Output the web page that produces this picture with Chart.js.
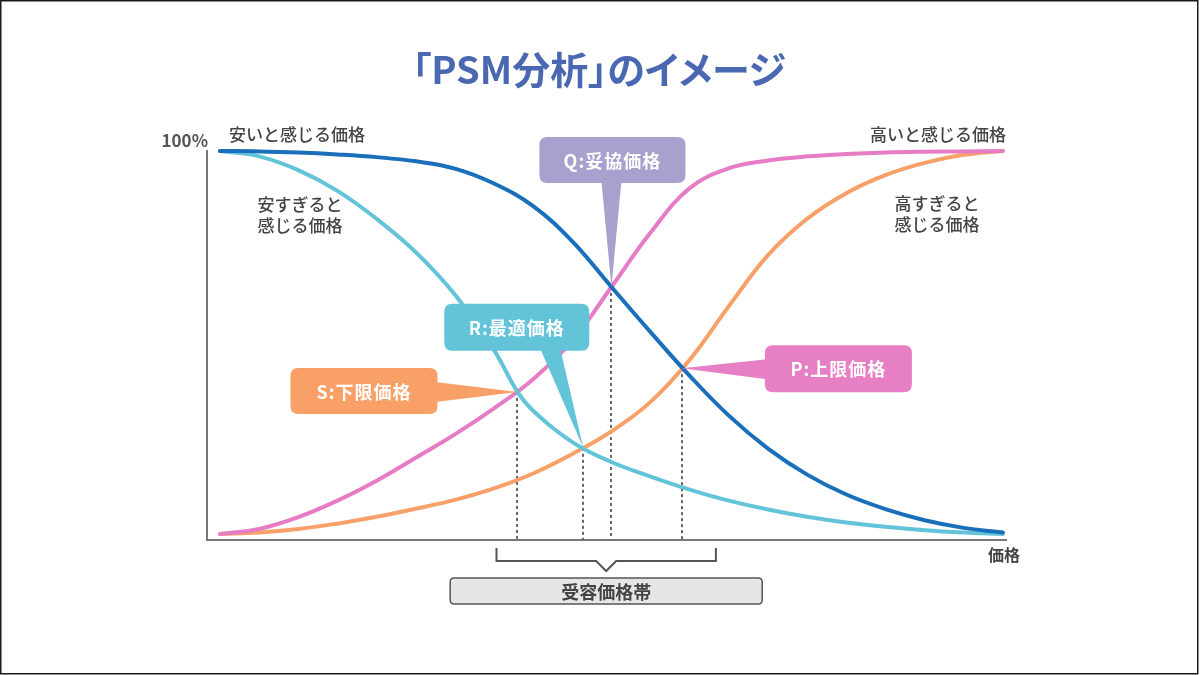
<!DOCTYPE html>
<html lang="ja">
<head>
<meta charset="utf-8">
<title>PSM分析のイメージ</title>
<script src="https://cdn.jsdelivr.net/npm/chart.js@4.4.1/dist/chart.umd.min.js"></script>
<style>
  html, body { margin: 0; padding: 0; background: #fff; }
  #wrap { width: 1200px; height: 675px; position: relative; }
  #title {
    position: absolute; left: 0; top: 48px; width: 1198px; margin: 0;
    text-align: center; font-family: "Noto Sans CJK JP", "Noto Sans", sans-serif;
    font-weight: bold; font-size: 38px; line-height: 40px; color: #4a67b1;
    font-feature-settings: "palt" 1; letter-spacing: 0px;
  }
</style>
</head>
<body>
<div id="wrap">
  <canvas id="c" width="1200" height="675"></canvas>
  <h1 id="title"></h1>
</div>
<script>
// ---- data (price index 0-100, share of respondents %) ----
const stepPrice     = [0, 5, 10, 15, 20, 25, 30, 35, 40, 45, 50, 55, 60, 65, 70, 75, 80, 85, 90, 95, 100];

const cheapPrice    = stepPrice;
const cheapPct      = [100, 99.9, 99.6, 99.1, 98.4, 97.3, 95.4, 91.5, 85.6, 76.4, 64.5, 52.7, 41.3, 30.9, 22.3, 15.5, 10.3, 6.5, 3.6, 1.6, 0.4];

const tooCheapPrice = [0, 5, 10, 15, 20, 25, 30, 35, 38, 40, 45, 50, 55, 60, 65, 70, 75, 80, 85, 90, 95, 100];
const tooCheapPct   = [100, 98.6, 95.0, 89.6, 82.3, 73.6, 62.5, 48.0, 37.1, 32.2, 24.0, 18.8, 15.0, 11.6, 8.7, 6.4, 4.5, 3.0, 1.9, 1.0, 0.4, 0];

const highPrice     = stepPrice;
const highPct       = [0, 1.3, 4.4, 8.7, 13.9, 19.9, 26.0, 32.8, 40.4, 50.5, 64.5, 78.7, 90.3, 95.5, 97.5, 98.6, 99.2, 99.6, 99.8, 99.9, 100];

const tooHighPrice  = stepPrice;
const tooHighPct    = [0, 0.4, 1.3, 2.7, 4.5, 6.6, 8.9, 11.9, 15.8, 20.9, 26.8, 34.5, 45.5, 59.5, 72.8, 82.3, 89.0, 93.7, 96.9, 99.0, 100];

const seriesNames   = ['安いと感じる価格', '安すぎると感じる価格', '高いと感じる価格', '高すぎると感じる価格'];

const markerLabels  = ['S:下限価格', 'R:最適価格', 'Q:妥協価格', 'P:上限価格'];
const markerPrice   = [38, 46.4, 50, 59];
const markerPct     = [37.1, 22.5, 64.5, 43.3];

const titleText     = '「PSM分析」のイメージ';
const yTopLabel     = '100%';
const xAxisLabel    = '価格';
const bandLabel     = '受容価格帯';

document.getElementById('title').textContent = titleText;

// ---- build ----
const zip = (xs, ys) => xs.map((x, i) => ({ x: x, y: ys[i] }));
const FONT = '"Noto Sans CJK JP", "Noto Sans", sans-serif';

const colors = {
  cheap: '#1a6fbb', tooCheap: '#63c4d9', high: '#e67cc5', tooHigh: '#f9a068',
  S: '#f9a068', R: '#63c4d9', Q: '#a7a1cd', P: '#e77fc4'
};

// callout layout, relative to the intersection pixel
const callouts = [
  { color: colors.S, box: [-227, -24, -80, 22], base: [[-82, -10], [-82, 10]] },
  { color: colors.R, box: [-139, -144, 6, -97], base: [[-43, -99], [-23, -99]] },
  { color: colors.Q, box: [-72, -150, 74, -104], base: [[-10, -106], [10, -106]] },
  { color: colors.P, box: [83, -23, 230, 24], base: [[85, -9], [85, 11]] }
];

function rrect(ctx, x, y, w, h, r) {
  ctx.beginPath();
  ctx.moveTo(x + r, y);
  ctx.lineTo(x + w - r, y);
  ctx.quadraticCurveTo(x + w, y, x + w, y + r);
  ctx.lineTo(x + w, y + h - r);
  ctx.quadraticCurveTo(x + w, y + h, x + w - r, y + h);
  ctx.lineTo(x + r, y + h);
  ctx.quadraticCurveTo(x, y + h, x, y + h - r);
  ctx.lineTo(x, y + r);
  ctx.quadraticCurveTo(x, y, x + r, y);
  ctx.closePath();
}

const deco = {
  id: 'deco',
  beforeDraw(chart) {
    const ctx = chart.ctx;
    ctx.save();
    ctx.fillStyle = '#ffffff';
    ctx.fillRect(0, 0, chart.width, chart.height);
    ctx.restore();
  },
  beforeDatasetsDraw(chart) {
    const ctx = chart.ctx, xs = chart.scales.x, ys = chart.scales.y;
    ctx.save();
    ctx.strokeStyle = '#666';
    ctx.lineWidth = 2;
    ctx.setLineDash([3, 3]);
    markerPrice.forEach((p, i) => {
      const px = Math.round(xs.getPixelForValue(p));
      const py = ys.getPixelForValue(markerPct[i]);
      ctx.beginPath();
      ctx.moveTo(px, py);
      ctx.lineTo(px, chart.chartArea.bottom);
      ctx.stroke();
    });
    ctx.restore();
  },
  afterDraw(chart) {
    const ctx = chart.ctx, xs = chart.scales.x, ys = chart.scales.y;
    ctx.save();

    // frame
    ctx.strokeStyle = '#1a1a1a';
    ctx.lineWidth = 1.5;
    ctx.strokeRect(0.75, 0.75, 1197, 673);

    ctx.textBaseline = 'middle';

    // axis labels
    ctx.fillStyle = '#555';
    ctx.font = 'bold 17px ' + FONT;
    ctx.textAlign = 'right';
    ctx.fillText(yTopLabel, 208, 141);
    ctx.fillStyle = '#444';
    ctx.font = 'bold 16px ' + FONT;
    ctx.textAlign = 'center';
    ctx.fillText(xAxisLabel, 1004, 555);

    // series labels
    ctx.fillStyle = '#444';
    ctx.font = '500 17px ' + FONT;
    ctx.textAlign = 'left';
    ctx.fillText(seriesNames[0], 229, 135);
    ctx.textAlign = 'right';
    ctx.fillText(seriesNames[2], 1006, 135);
    ctx.textAlign = 'center';
    ctx.fillText('安すぎると', 300, 205);
    ctx.fillText('感じる価格', 300, 226);
    ctx.fillText('高すぎると', 937, 204);
    ctx.fillText('感じる価格', 937, 225);

    // callouts
    markerPrice.forEach((p, i) => {
      const tx = xs.getPixelForValue(p), ty = ys.getPixelForValue(markerPct[i]);
      const c = callouts[i];
      const bx = tx + c.box[0], by = ty + c.box[1];
      const bw = c.box[2] - c.box[0], bh = c.box[3] - c.box[1];
      ctx.fillStyle = c.color;
      rrect(ctx, bx, by, bw, bh, 8);
      ctx.fill();
      ctx.beginPath();
      ctx.moveTo(tx + c.base[0][0], ty + c.base[0][1]);
      ctx.lineTo(tx, ty);
      ctx.lineTo(tx + c.base[1][0], ty + c.base[1][1]);
      ctx.closePath();
      ctx.fill();
      ctx.fillStyle = '#ffffff';
      ctx.font = 'bold 18px ' + FONT;
      ctx.textAlign = 'center';
      try { ctx.letterSpacing = '1px'; } catch (e) {}
      ctx.fillText(markerLabels[i], bx + bw / 2, by + bh / 2 + 1);
      try { ctx.letterSpacing = '0px'; } catch (e) {}
    });

    // acceptable price band bracket
    const left = xs.getPixelForValue(markerPrice[0]) - 21;
    const right = xs.getPixelForValue(markerPrice[3]) + 34;
    const mid = (left + right) / 2;
    ctx.strokeStyle = '#555';
    ctx.lineWidth = 2;
    ctx.lineJoin = 'miter';
    ctx.beginPath();
    ctx.moveTo(left, 548);
    ctx.lineTo(left, 561);
    ctx.lineTo(mid - 10, 561);
    ctx.lineTo(mid, 571);
    ctx.lineTo(mid + 10, 561);
    ctx.lineTo(right, 561);
    ctx.lineTo(right, 548);
    ctx.stroke();

    // band label box
    const boxW = 312, boxH = 26;
    ctx.fillStyle = '#e6e6e6';
    rrect(ctx, mid - boxW / 2, 578, boxW, boxH, 4);
    ctx.fill();
    ctx.lineWidth = 1.5;
    ctx.strokeStyle = '#555';
    ctx.stroke();
    ctx.fillStyle = '#444';
    ctx.font = 'bold 18px ' + FONT;
    ctx.textAlign = 'center';
    ctx.fillText(bandLabel, mid, 592);

    ctx.restore();
  }
};

const lineDefaults = {
  borderWidth: 4,
  pointRadius: 0,
  fill: false,
  tension: 0.4,
  cubicInterpolationMode: 'default',
  borderCapStyle: 'round',
  borderJoinStyle: 'round',
  clip: false
};

new Chart(document.getElementById('c'), {
  type: 'line',
  data: {
    datasets: [
      Object.assign({ label: seriesNames[0], data: zip(cheapPrice, cheapPct), borderColor: colors.cheap }, lineDefaults),
      Object.assign({ label: seriesNames[1], data: zip(tooCheapPrice, tooCheapPct), borderColor: colors.tooCheap }, lineDefaults),
      Object.assign({ label: seriesNames[2], data: zip(highPrice, highPct), borderColor: colors.high }, lineDefaults),
      Object.assign({ label: seriesNames[3], data: zip(tooHighPrice, tooHighPct), borderColor: colors.tooHigh }, lineDefaults)
    ]
  },
  options: {
    responsive: false,
    animation: false,
    layout: { padding: { left: 207, top: 151, right: 194, bottom: 135 } },
    plugins: { legend: { display: false }, tooltip: { enabled: false }, title: { display: false } },
    scales: {
      x: {
        type: 'linear', min: -1.66, max: 100.4,
        ticks: { display: false }, grid: { display: false },
        border: { display: true, color: '#777', width: 2 },
        afterFit: (s) => { s.height = 0; }
      },
      y: {
        type: 'linear', min: -1.57, max: 100,
        ticks: { display: false }, grid: { display: false },
        border: { display: true, color: '#777', width: 2 },
        afterFit: (s) => { s.width = 0; }
      }
    }
  },
  plugins: [deco]
});
</script>
</body>
</html>
